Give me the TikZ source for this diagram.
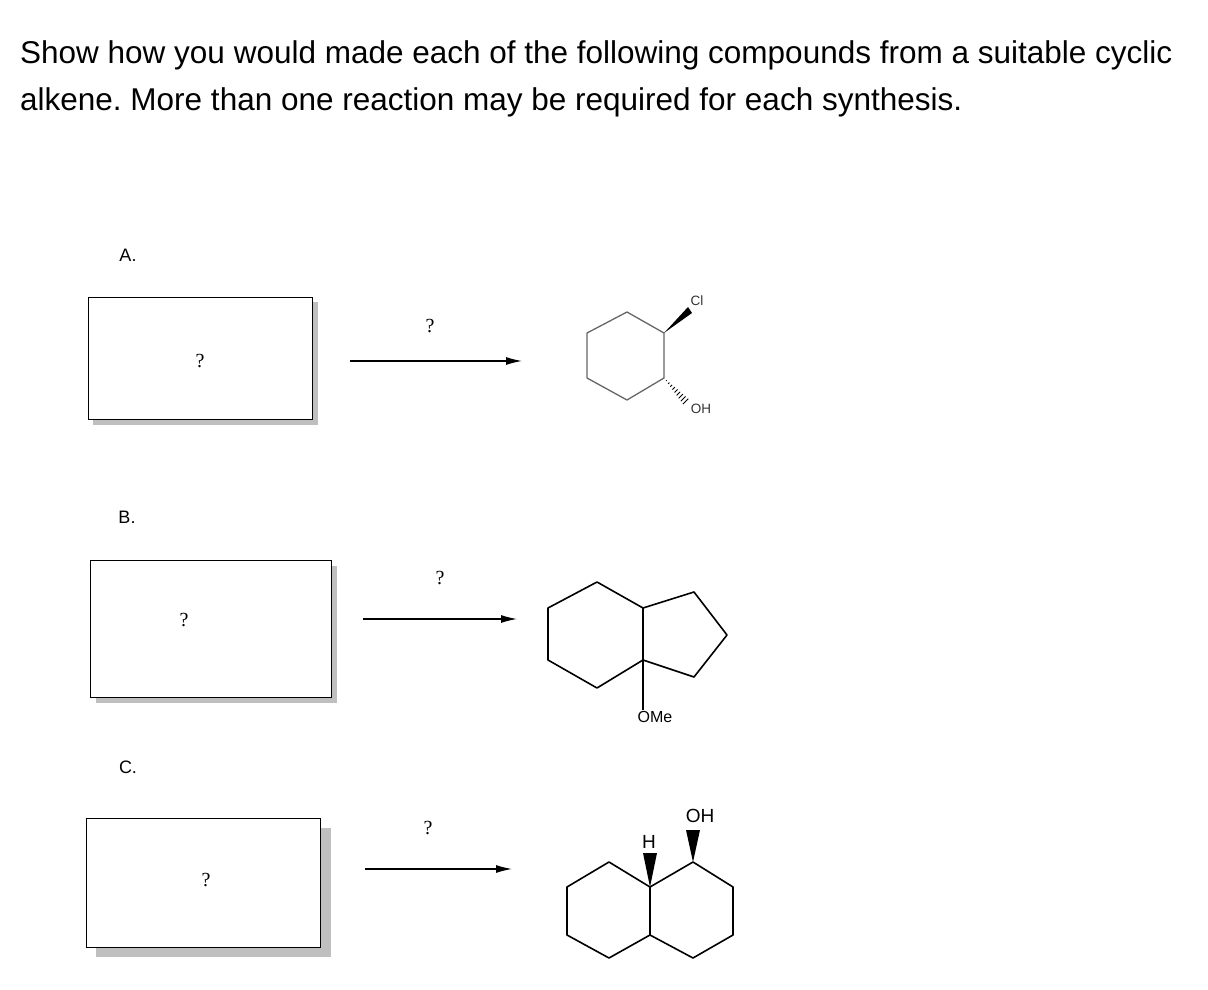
\documentclass[tikz,border=0pt]{standalone}
\usepackage{fontspec}
\setmainfont{Liberation Sans}
\newfontfamily\serifq{Liberation Serif}
\usetikzlibrary{arrows.meta,calc}
\frenchspacing
\begin{document}
\begin{tikzpicture}[x=1pt,y=-1pt,
  bond/.style={line width=1.6pt,line join=round},
  gbond/.style={line width=1.3pt,draw=black!60,line join=round},
  qbox/.style={draw,line width=1pt,fill=white},
  shadow/.style={fill=black!25},
  rarrow/.style={line width=1.2pt,-{Latex[length=16pt,width=8pt]}},
  q/.style={font=\serifq\fontsize{20}{20}\selectfont},
  lab/.style={font=\fontsize{18}{18}\selectfont},
  chem/.style={font=\fontsize{16}{16}\selectfont,inner sep=1pt},
  chems/.style={font=\fontsize{13.5}{13.5}\selectfont,inner sep=1pt,text=black!80}]
\useasboundingbox (0,0) rectangle (1208,990);
\node[anchor=west,font=\fontsize{31.5}{31.5}\selectfont,inner sep=0] (t1) at (20,55) {Show how you would made each of the following compounds from a suitable cyclic};
\node[anchor=west,font=\fontsize{31.5}{31.5}\selectfont,inner sep=0] (t2) at (20,102) {alkene. More than one reaction may be required for each synthesis.};
% A
\node[lab] (la) at (128,255) {A.};
\fill[shadow] (93,302) rectangle (318,425);
\draw[qbox] (88,297) rectangle (312,419);
\node[q] (qa1) at (200,361) {?};
\coordinate (a1) at (350,361); \coordinate (a2) at (522,361);
\draw[rarrow] (a1) -- (a2);
\node[q] (qa2) at (430,326) {?};
\draw[gbond] (627,312)--(664,333)--(664,378)--(627,400)--(587,378)--(587,333)--cycle;
\coordinate (ca) at (664,333); \coordinate (oa) at (664,378);
\node[chems] (cl) at (697,301) {Cl};
\node[chems] (oh) at (701,409) {OH};
\fill (ca) -- (688,307) -- (692,313) -- cycle;
\foreach \t in {0.1,0.2,...,0.95}{
  \draw[line width=0.8pt] ($(oa)!\t!(688,404)+(-3*\t,3*\t)$) -- ($(oa)!\t!(688,404)+(3*\t,-3*\t)$);}
% B
\node[lab] (lb) at (127,517) {B.};
\fill[shadow] (96,566) rectangle (337,703);
\draw[qbox] (90,560) rectangle (331,697);
\node[q] (qb1) at (184,620) {?};
\coordinate (b1) at (363,619); \coordinate (b2) at (517,619);
\draw[rarrow] (b1) -- (b2);
\node[q] (qb2) at (440,578) {?};
\draw[bond] (597,582)--(643,608)--(643,660)--(597,688)--(548,660)--(548,608)--cycle;
\draw[bond] (643,608)--(694,592)--(727,635)--(694,677)--(643,660);
\coordinate (cb) at (643,660);
\node[chem] (ome) at (655,717) {OMe};
\draw[bond] (cb) -- (ome.north -| cb);
% C
\node[lab] (lc) at (128,767) {C.};
\fill[shadow] (96,828) rectangle (331,957);
\draw[qbox] (86,818) rectangle (320,947);
\node[q] (qc1) at (206,880) {?};
\coordinate (c1) at (365,869); \coordinate (c2) at (512,869);
\draw[rarrow] (c1) -- (c2);
\node[q] (qc2) at (428,828) {?};
\draw[bond] (609,862)--(650,887)--(650,935)--(609,958)--(567,935)--(567,887)--cycle;
\draw[bond] (650,887)--(693,862)--(733,887)--(733,935)--(693,958)--(650,935);
\coordinate (ch) at (650,887); \coordinate (co) at (693,862);
\node[chem,font=\fontsize{19}{19}\selectfont] (hh) at (649,842) {H};
\node[chem,font=\fontsize{19}{19}\selectfont] (ohc) at (700,816) {OH};
\fill (ch) -- (643,853) -- (657,853) -- cycle;
\fill (co) -- (686,830) -- (700,830) -- cycle;
\end{tikzpicture}
\end{document}
